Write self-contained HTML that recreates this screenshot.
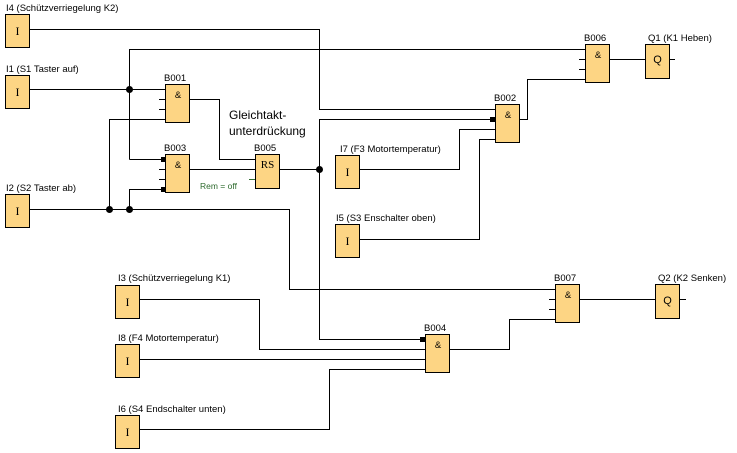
<!DOCTYPE html>
<html><head><meta charset="utf-8"><style>
body{margin:0;background:#fff}
svg{display:block}
text{font-family:"Liberation Sans",Arial,sans-serif;font-size:9.5px;fill:#000}
.b{fill:#fdd584;stroke:#000;stroke-width:1}
.s{font-family:"Liberation Serif",serif;font-size:12px}
</style></head><body>
<svg width="737" height="453" viewBox="0 0 737 453" xmlns="http://www.w3.org/2000/svg">
<g fill="none" stroke="#000" stroke-width="1">
<polyline points="29,29.5 319.5,29.5 319.5,109.5 495,109.5"/>
<polyline points="129.5,159.5 129.5,49.5 585,49.5"/>
<polyline points="129.5,159.5 166,159.5"/>
<polyline points="29,89.5 166,89.5"/>
<polyline points="29,209.5 289.5,209.5 289.5,289.5 555,289.5"/>
<polyline points="109.5,209.5 109.5,119.5 166,119.5"/>
<polyline points="129.5,209.5 129.5,189.5 166,189.5"/>
<line x1="159" y1="99.5" x2="166" y2="99.5"/><line x1="159" y1="109.5" x2="166" y2="109.5"/>
<line x1="159" y1="169.5" x2="166" y2="169.5"/><line x1="159" y1="179.5" x2="166" y2="179.5"/>
<polyline points="190,99.5 219.5,99.5 219.5,159.5 256,159.5"/>
<polyline points="190,169.5 256,169.5"/>
<polyline points="279,169.5 319.5,169.5"/>
<polyline points="495,119.5 319.5,119.5 319.5,339.5 425,339.5"/>
<polyline points="359,169.5 459.5,169.5 459.5,129.5 495,129.5"/>
<polyline points="359,239.5 479.5,239.5 479.5,139.5 495,139.5"/>
<polyline points="519,119.5 527.5,119.5 527.5,79.5 585,79.5"/>
<line x1="579" y1="59.5" x2="585" y2="59.5"/><line x1="579" y1="69.5" x2="585" y2="69.5"/>
<line x1="609" y1="59.5" x2="645" y2="59.5"/><line x1="669" y1="59.5" x2="675" y2="59.5"/>
<polyline points="139,299.5 259.5,299.5 259.5,349.5 425,349.5"/>
<polyline points="139,359.5 425,359.5"/>
<polyline points="139,429.5 329.5,429.5 329.5,369.5 425,369.5"/>
<polyline points="449,349.5 509.5,349.5 509.5,319.5 555,319.5"/>
<line x1="549" y1="299.5" x2="555" y2="299.5"/><line x1="549" y1="309.5" x2="555" y2="309.5"/>
<line x1="580" y1="299.5" x2="655" y2="299.5"/><line x1="680" y1="299.5" x2="686" y2="299.5"/>
<line x1="249" y1="179.5" x2="256" y2="179.5" stroke="#2e6b2e"/>
</g>
<g fill="#000">
<circle cx="129.5" cy="89.5" r="3.5"/><circle cx="109.5" cy="209.5" r="3.5"/><circle cx="129.5" cy="209.5" r="3.5"/><circle cx="319.5" cy="169.5" r="3.5"/>
<rect x="161" y="157" width="5" height="5"/><rect x="161" y="187" width="5" height="5"/>
<rect x="490" y="117" width="5" height="5"/><rect x="420" y="337" width="5" height="5"/>
</g>
<rect class="b" x="5.5" y="14.5" width="24" height="33"/>
<rect class="b" x="5.5" y="75.5" width="24" height="33"/>
<rect class="b" x="5.5" y="194.5" width="24" height="33"/>
<rect class="b" x="335.5" y="155.5" width="24" height="33"/>
<rect class="b" x="335.5" y="224.5" width="24" height="33"/>
<rect class="b" x="115.5" y="285.5" width="24" height="33"/>
<rect class="b" x="115.5" y="344.5" width="24" height="33"/>
<rect class="b" x="115.5" y="415.5" width="24" height="33"/>
<rect class="b" x="165.5" y="84.5" width="24" height="38"/>
<rect class="b" x="165.5" y="154.5" width="24" height="38"/>
<rect class="b" x="255.5" y="154.5" width="24" height="34"/>
<rect class="b" x="495.5" y="104.5" width="24" height="38"/>
<rect class="b" x="585.5" y="44.5" width="24" height="38"/>
<rect class="b" x="645.5" y="44.5" width="24" height="34"/>
<rect class="b" x="425.5" y="334.5" width="24" height="38"/>
<rect class="b" x="555.5" y="284.5" width="24" height="38"/>
<rect class="b" x="655.5" y="284.5" width="24" height="34"/>
<g text-anchor="middle">
<text x="17.5" y="35" class="s">I</text><text x="17.5" y="96" class="s">I</text><text x="17.5" y="215" class="s">I</text>
<text x="347.5" y="176" class="s">I</text><text x="347.5" y="245" class="s">I</text>
<text x="127.5" y="306" class="s">I</text><text x="127.5" y="365" class="s">I</text><text x="127.5" y="436" class="s">I</text>
<text x="267.5" y="168" class="s" style="font-size:11px">RS</text>
<text x="657.5" y="63" style="font-size:11px">Q</text>
<text x="667.5" y="304" style="font-size:11px">Q</text>
</g>
<g text-anchor="middle" style="font-size:8px">
<text x="178" y="98">&amp;</text><text x="178" y="168">&amp;</text><text x="508" y="118">&amp;</text>
<text x="598" y="58">&amp;</text><text x="438" y="348">&amp;</text><text x="568" y="298">&amp;</text>
</g>
<text x="6" y="11">I4 (Schützverriegelung K2)</text>
<text x="6" y="72">I1 (S1 Taster auf)</text>
<text x="6" y="191">I2 (S2 Taster ab)</text>
<text x="340" y="152">I7 (F3 Motortemperatur)</text>
<text x="336" y="221">I5 (S3 Enschalter oben)</text>
<text x="118" y="281">I3 (Schützverriegelung K1)</text>
<text x="118" y="341">I8 (F4 Motortemperatur)</text>
<text x="118" y="412">I6 (S4 Endschalter unten)</text>
<text x="164" y="81">B001</text><text x="164" y="151">B003</text><text x="254" y="151">B005</text>
<text x="494" y="101">B002</text><text x="584" y="41">B006</text><text x="648" y="41">Q1 (K1 Heben)</text>
<text x="424" y="331">B004</text><text x="554" y="281">B007</text><text x="658" y="281">Q2 (K2 Senken)</text>
<text x="229" y="119" style="font-size:12px">Gleichtakt-</text>
<text x="229" y="135" style="font-size:12px">unterdrückung</text>
<text x="200" y="189" style="fill:#2e6b2e;font-size:8.5px">Rem = off</text>
</svg>
</body></html>
